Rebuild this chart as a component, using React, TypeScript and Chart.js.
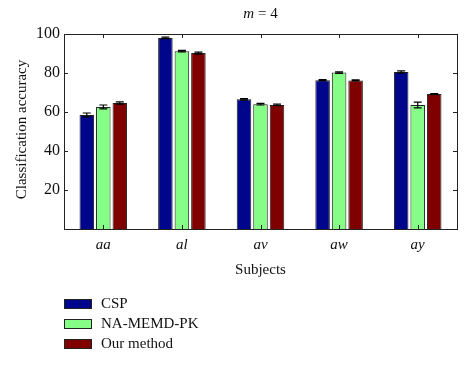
import React, { useEffect, useRef } from "react";
import { Chart, registerables } from "chart.js";

Chart.register(...registerables);

const categories = ["aa", "al", "av", "aw", "ay"];
const seriesNames = ["CSP", "NA-MEMD-PK", "Our method"];
const cspValues = [58.5, 98, 66.5, 76.3, 80.5];
const cspErrors = [1, 0.4, 0.4, 0.3, 0.6];
const namemdValues = [62.6, 91.2, 64, 80.2, 63.6];
const namemdErrors = [1, 0.4, 0.4, 0.4, 1.5];
const ourValues = [64.6, 90.2, 63.6, 76.2, 69.2];
const ourErrors = [0.6, 0.5, 0.4, 0.3, 0.3];
const yTicks = [20, 40, 60, 80, 100];
const colors = ["#00068c", "#86fd86", "#7e0000"];

const SERIF = "'Liberation Serif', 'DejaVu Serif', serif";

const errors = [cspErrors, namemdErrors, ourErrors];

const framePlugin = {
  id: "frame",
  afterDatasetsDraw(chart: any) {
    const ctx = chart.ctx;
    const { left, right, top, bottom } = chart.chartArea;
    const ys = chart.scales.y;
    const xs = chart.scales.x;
    ctx.save();
    // error bars
    ctx.strokeStyle = "#000";
    ctx.lineWidth = 1.2;
    chart.data.datasets.forEach((ds: any, i: number) => {
      const meta = chart.getDatasetMeta(i);
      meta.data.forEach((el: any, j: number) => {
        const v = ds.data[j];
        const e = errors[i][j];
        const y1 = ys.getPixelForValue(v + e);
        const y2 = ys.getPixelForValue(v - e);
        const x = el.x;
        ctx.beginPath();
        ctx.moveTo(x, y1);
        ctx.lineTo(x, y2);
        ctx.moveTo(x - 4, y1);
        ctx.lineTo(x + 4, y1);
        ctx.moveTo(x - 4, y2);
        ctx.lineTo(x + 4, y2);
        ctx.stroke();
      });
    });
    // frame
    ctx.lineWidth = 1;
    ctx.strokeStyle = "#222";
    ctx.strokeRect(left + 0.5, top + 0.5, right - left, bottom - top);
    ctx.beginPath();
    yTicks.forEach((t) => {
      const y = Math.round(ys.getPixelForValue(t)) + 0.5;
      ctx.moveTo(left, y);
      ctx.lineTo(left + 4, y);
      ctx.moveTo(right, y);
      ctx.lineTo(right - 4, y);
    });
    categories.forEach((_, i) => {
      const x = Math.round(xs.getPixelForValue(i)) + 0.5;
      ctx.moveTo(x, top);
      ctx.lineTo(x, top + 4);
      ctx.moveTo(x, bottom);
      ctx.lineTo(x, bottom - 4);
    });
    ctx.stroke();
    // title
    ctx.fillStyle = "#111";
    ctx.textBaseline = "middle";
    const cx = (left + right) / 2;
    ctx.font = `italic 15px ${SERIF}`;
    const mW = ctx.measureText("m").width;
    ctx.font = `15px ${SERIF}`;
    const restW = ctx.measureText(" = 4").width;
    const sx = cx - (mW + restW) / 2;
    ctx.textAlign = "left";
    ctx.font = `italic 15px ${SERIF}`;
    ctx.fillText("m", sx, 14);
    ctx.font = `15px ${SERIF}`;
    ctx.fillText(" = 4", sx + mW, 14);
    // y axis title
    ctx.save();
    ctx.translate(22, (top + bottom) / 2 - 2);
    ctx.rotate(-Math.PI / 2);
    ctx.textAlign = "center";
    ctx.font = `15px ${SERIF}`;
    ctx.fillText("Classification accuracy", 0, 0);
    ctx.restore();
    // legend
    ctx.textAlign = "left";
    ctx.font = `15px ${SERIF}`;
    seriesNames.forEach((name, i) => {
      const cy = 304 + i * 20;
      ctx.fillStyle = colors[i];
      ctx.fillRect(left, cy - 5, 27, 10);
      ctx.strokeStyle = "#222";
      ctx.strokeRect(left + 0.5, cy - 4.5, 27, 9);
      ctx.fillStyle = "#111";
      ctx.fillText(name, left + 37, cy);
    });
    ctx.restore();
  },
};

export default function App() {
  const ref = useRef<HTMLCanvasElement>(null);
  useEffect(() => {
    if (!ref.current) return;
    const chart = new Chart(ref.current, {
      type: "bar",
      data: {
        labels: categories,
        datasets: [cspValues, namemdValues, ourValues].map((d, i) => ({
          label: seriesNames[i],
          data: d,
          backgroundColor: colors[i],
          borderColor: "#222",
          borderWidth: 1,
          categoryPercentage: 0.63,
          barPercentage: 0.88,
        })),
      },
      options: {
        animation: false,
        responsive: false,
        maintainAspectRatio: false,
        layout: { padding: { left: 0, right: 17, top: 34, bottom: 87 } },
        plugins: {
          legend: { display: false },
          title: { display: false },
          tooltip: { enabled: false },
        },
        scales: {
          x: {
            grid: { display: false, drawTicks: false },
            border: { display: false },
            ticks: {
              color: "#111",
              font: { family: SERIF, size: 15, style: "italic" },
              padding: 7,
            },
            title: {
              display: true,
              text: "Subjects",
              color: "#111",
              font: { family: SERIF, size: 15 },
              padding: { top: 2, bottom: 0 },
            },
            afterFit: (s: any) => {
              s.height = 50;
            },
          },
          y: {
            min: 0,
            max: 100,
            grid: { display: false, drawTicks: false },
            border: { display: false },
            afterBuildTicks: (s: any) => {
              s.ticks = yTicks.map((v) => ({ value: v }));
            },
            ticks: {
              color: "#111",
              font: { family: SERIF, size: 16 },
              padding: 4,
            },
            afterFit: (s: any) => {
              s.width = 64;
            },
          },
        },
      },
      plugins: [framePlugin],
    });
    return () => chart.destroy();
  }, []);
  return (
    <div style={{ position: "fixed", left: 0, top: 0, width: 474, height: 366, background: "#fff" }}>
      <canvas ref={ref} width={474} height={366} style={{ width: 474, height: 366 }} />
    </div>
  );
}
